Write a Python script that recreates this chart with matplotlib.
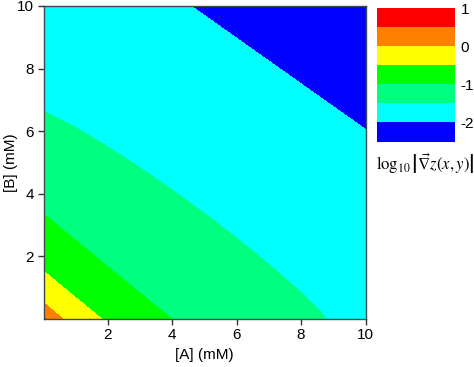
import numpy as np
import matplotlib
matplotlib.use("Agg")
import matplotlib.pyplot as plt
from matplotlib.colors import ListedColormap, BoundaryNorm

plt.rcParams['font.family'] = ['Liberation Sans', 'DejaVu Sans']
plt.rcParams['axes.unicode_minus'] = False
plt.rcParams['mathtext.fontset'] = 'stix'

# Contour levels (colour band edges) and band colours, low -> high
band_edges = [-2.5, -2.0, -1.5, -1.0, -0.5, 0.0, 0.5, 1.0]
band_colors = ['#0000FF', '#00FFFF', '#00FF80', '#00FF00', '#FFFF00', '#FF8000', '#FF0000']

# Level boundaries: where each level line meets the x and y axes
level_values = [1.0, 0.5, 0.0, -0.5, -1.0, -1.5, -2.0, -2.5]
x_intercepts = [0.001, 0.07, 0.60, 1.79, 3.96, 8.76, 18.3, 40.0]
y_intercepts = [0.001, 0.06, 0.51, 1.52, 3.34, 6.63, 13.34, 30.0]
curvature = [1.0, 1.0, 1.0, 1.0, 1.0, 1.12, 1.0, 1.0]

cbar_ticks = [1, 0, -1, -2]
x_ticks = [2, 4, 6, 8, 10]
y_ticks = [2, 4, 6, 8, 10]

# Build the field from the level lines
xs = np.linspace(0, 10, 801)
ys = np.linspace(0, 10, 801)
X, Y = np.meshgrid(xs, ys)
G = [(X / xi) ** p + (Y / yi) ** p for xi, yi, p in zip(x_intercepts, y_intercepts, curvature)]
Z = np.full(X.shape, level_values[-1])
for i in range(len(level_values) - 1):
    g0, g1 = G[i], G[i + 1]
    mask = (g0 > 1) & (g1 <= 1)
    t = (g0 - 1) / np.where(g0 - g1 == 0, 1, g0 - g1)
    Z[mask] = (level_values[i] + (level_values[i + 1] - level_values[i]) * t)[mask]
Z[G[0] <= 1] = level_values[0]

fig = plt.figure(figsize=(4.74, 3.67), dpi=100)
ax = fig.add_axes([0.0918, 0.1319, 0.6793, 0.8518])
cmap = ListedColormap(band_colors)
norm = BoundaryNorm(band_edges, cmap.N)
cf = ax.contourf(X, Y, Z, levels=band_edges, cmap=cmap, norm=norm)
ax.set_xlim(0, 10)
ax.set_ylim(0, 10)
ax.set_xticks(x_ticks)
ax.set_yticks(y_ticks)
ax.tick_params(direction='out', length=4, width=1, color='#333333', labelsize=11, pad=3)
for s in ax.spines.values():
    s.set_color('#404850')
    s.set_linewidth(1.0)
ax.set_xlabel('[A] (mM)', fontsize=11, labelpad=4)
ax.set_ylabel('[B] (mM)', fontsize=11)
ax.yaxis.set_label_coords(-0.078, 0.5)

cax = fig.add_axes([0.7954, 0.6144, 0.1646, 0.363])
cb = fig.colorbar(cf, cax=cax, ticks=cbar_ticks)
cb.outline.set_visible(False)
cax.minorticks_off()
cax.tick_params(which='both', length=0, labelsize=11, pad=4)
cax.set_yticklabels([str(t) for t in cbar_ticks])
fig.text(0.897, 0.553, r'$\log_{10}\left|\vec{\nabla}z(x,y)\right|$', fontsize=12,
         ha='center', va='center')

fig.savefig('out.png', dpi=100)
